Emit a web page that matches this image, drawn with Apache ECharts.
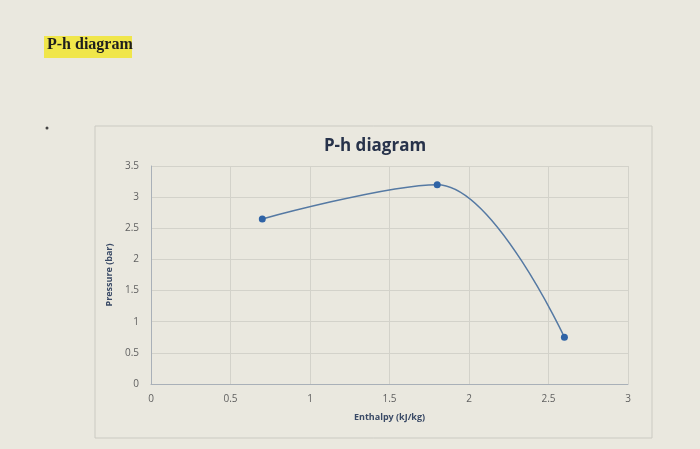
<!DOCTYPE html>
<html>
<head>
<meta charset="utf-8">
<script src="https://cdn.jsdelivr.net/npm/echarts@6/dist/echarts.min.js"></script>
<style>
html,body{margin:0;padding:0;background:#eae8df;}
#c{width:700px;height:449px;}
</style>
</head>
<body>
<div id="c"></div>
<script>
var enthalpy = [0.7, 1.8, 2.6];
var pressure = [2.65, 3.2, 0.75];
var xTicks = [0, 0.5, 1, 1.5, 2, 2.5, 3];
var yTicks = [0, 0.5, 1, 1.5, 2, 2.5, 3, 3.5];

var chart = echarts.init(document.getElementById('c'));
var pts = enthalpy.map(function (h, i) { return [h, pressure[i]]; });
chart.setOption({
  backgroundColor: '#eae8df',
  animation: false,
  title: {
    text: 'P-h diagram',
    left: 370, top: 133, textAlign: 'center',
    textStyle: { fontFamily: 'Open Sans', fontWeight: 'bold', fontSize: 17, color: '#27324a' }
  },
  graphic: [
    { type: 'rect', shape: { x: 95, y: 126, width: 557, height: 312 },
      style: { fill: 'transparent', stroke: '#cbcac2', lineWidth: 1 }, z: -1 },
    { type: 'rect', shape: { x: 44, y: 36, width: 88, height: 22 },
      style: { fill: '#f0e64a' }, z: -1 },
    { type: 'text', left: 47, top: 37,
      style: { text: 'P-h diagram', font: 'bold 16px "Liberation Serif"', fill: '#1e1e1e' } },
    { type: 'circle', shape: { cx: 47, cy: 128, r: 1.5 }, style: { fill: '#444' } }
  ],
  grid: { left: 151, right: 72, top: 166, bottom: 65 },
  xAxis: {
    type: 'value', min: 0, max: 3, interval: 0.5,
    name: 'Enthalpy (kJ/kg)', nameLocation: 'middle', nameGap: 29,
    nameTextStyle: { fontFamily: 'Open Sans', fontWeight: 'bold', fontSize: 9, color: '#3a4a66' },
    axisLine: { lineStyle: { color: '#a9b0b8' } },
    axisTick: { show: false },
    axisLabel: { fontFamily: 'Open Sans', fontSize: 10, color: '#5f5f5f', margin: 10,
      formatter: function (v) { return xTicks.indexOf(v) >= 0 ? String(v) : ''; } },
    splitLine: { show: true, lineStyle: { color: '#d3d2ca' } }
  },
  yAxis: {
    type: 'value', min: 0, max: 3.5, interval: 0.5,
    name: 'Pressure (bar)', nameLocation: 'middle', nameGap: 30, nameRotate: 90,
    nameTextStyle: { fontFamily: 'Open Sans', fontWeight: 'bold', fontSize: 9, color: '#3a4a66' },
    axisLine: { show: true, lineStyle: { color: '#a9b0b8' } },
    axisTick: { show: false },
    axisLabel: { fontFamily: 'Open Sans', fontSize: 10, color: '#5f5f5f', margin: 12,
      formatter: function (v) { return yTicks.indexOf(v) >= 0 ? String(v) : ''; } },
    splitLine: { show: true, lineStyle: { color: '#d3d2ca' } }
  },
  series: [{
    type: 'line', data: pts, smooth: 0.35,
    symbol: 'circle', symbolSize: 7,
    itemStyle: { color: '#2f63a6' },
    lineStyle: { color: '#5579a3', width: 1.5 }
  }]
});
</script>
</body>
</html>
